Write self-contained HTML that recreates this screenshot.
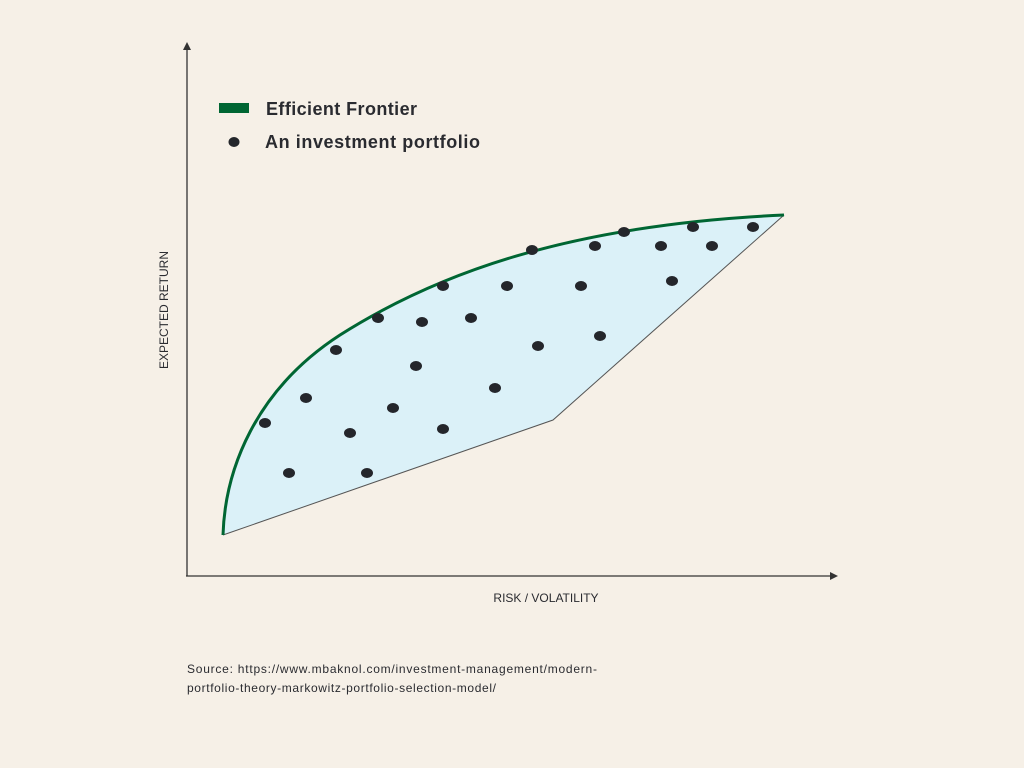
<!DOCTYPE html>
<html><head><meta charset="utf-8"><style>
html,body{margin:0;padding:0;background:#f6f0e7;}
svg{display:block;}
</style></head><body>
<svg width="1024" height="768" viewBox="0 0 1024 768" xmlns="http://www.w3.org/2000/svg" font-family="Liberation Sans, sans-serif">
<rect width="1024" height="768" fill="#f6f0e7"/>
<path d="M223,535 C225,470 255,390 340,335 C430,278 560,225 784,215 L553,420 Z" fill="#dbf1f8" stroke="none"/>
<path d="M223,535 L553,420 L784,215" fill="none" stroke="#555" stroke-width="1"/>
<path d="M223,535 C225,470 255,390 340,335 C430,278 560,225 784,215" fill="none" stroke="#006633" stroke-width="3"/>
<line x1="187" y1="576" x2="187" y2="48" stroke="#333" stroke-width="1.3"/>
<polygon points="183,50 191,50 187,42" fill="#333"/>
<line x1="186" y1="576" x2="832" y2="576" stroke="#333" stroke-width="1.3"/>
<polygon points="830,572 830,580 838,576" fill="#333"/>
<g fill="#24262b">
<ellipse cx="265" cy="423" rx="6" ry="5"/><ellipse cx="289" cy="473" rx="6" ry="5"/><ellipse cx="306" cy="398" rx="6" ry="5"/><ellipse cx="336" cy="350" rx="6" ry="5"/><ellipse cx="350" cy="433" rx="6" ry="5"/><ellipse cx="367" cy="473" rx="6" ry="5"/><ellipse cx="378" cy="318" rx="6" ry="5"/><ellipse cx="393" cy="408" rx="6" ry="5"/><ellipse cx="416" cy="366" rx="6" ry="5"/><ellipse cx="422" cy="322" rx="6" ry="5"/><ellipse cx="443" cy="286" rx="6" ry="5"/><ellipse cx="443" cy="429" rx="6" ry="5"/><ellipse cx="471" cy="318" rx="6" ry="5"/><ellipse cx="495" cy="388" rx="6" ry="5"/><ellipse cx="507" cy="286" rx="6" ry="5"/><ellipse cx="532" cy="250" rx="6" ry="5"/><ellipse cx="538" cy="346" rx="6" ry="5"/><ellipse cx="581" cy="286" rx="6" ry="5"/><ellipse cx="595" cy="246" rx="6" ry="5"/><ellipse cx="600" cy="336" rx="6" ry="5"/><ellipse cx="624" cy="232" rx="6" ry="5"/><ellipse cx="661" cy="246" rx="6" ry="5"/><ellipse cx="672" cy="281" rx="6" ry="5"/><ellipse cx="693" cy="227" rx="6" ry="5"/><ellipse cx="712" cy="246" rx="6" ry="5"/><ellipse cx="753" cy="227" rx="6" ry="5"/>
<ellipse cx="234" cy="142" rx="5.5" ry="5"/>
</g>
<rect x="219" y="103" width="30" height="10" fill="#006633"/>
<text x="266" y="115" font-size="18" font-weight="bold" fill="#2a2b30" textLength="151">Efficient Frontier</text>
<text x="265" y="148" font-size="18" font-weight="bold" fill="#2a2b30" textLength="215">An investment portfolio</text>
<text x="546" y="602" font-size="12" fill="#2a2b30" text-anchor="middle">RISK / VOLATILITY</text>
<text transform="translate(168,310) rotate(-90)" font-size="12" fill="#2a2b30" text-anchor="middle">EXPECTED RETURN</text>
<text x="187" y="673" font-size="12" fill="#2a2b30" textLength="410">Source:  https://www.mbaknol.com/investment-management/modern-</text>
<text x="187" y="692" font-size="12" fill="#2a2b30" textLength="309">portfolio-theory-markowitz-portfolio-selection-model/</text>
</svg>
</body></html>
